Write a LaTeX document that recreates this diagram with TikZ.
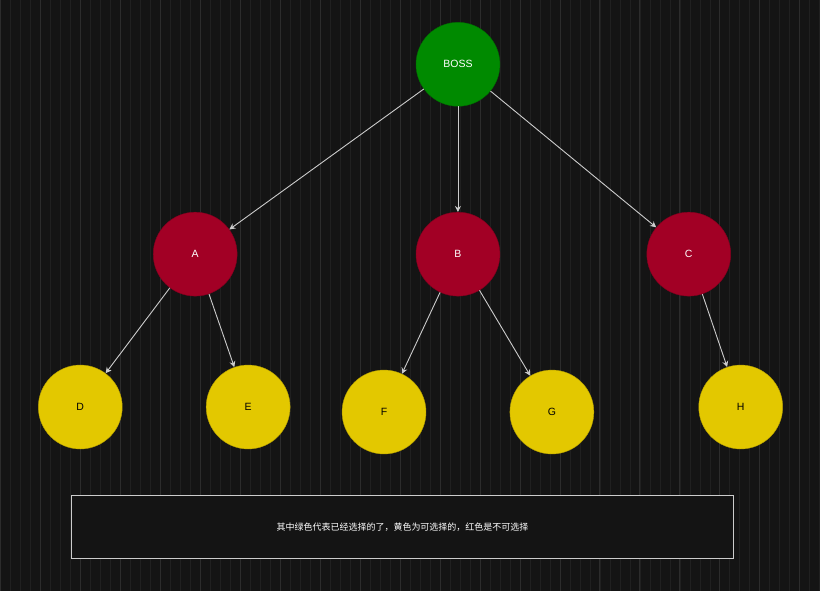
\documentclass[tikz,border=0pt]{standalone}
\usepackage{fontspec}
\setmainfont{Liberation Sans}
\newfontfamily\cjk{Noto Sans CJK SC}
\usetikzlibrary{arrows.meta}
\definecolor{bgdark}{HTML}{141414}
\definecolor{gridminor}{HTML}{202020}
\definecolor{gridmajor}{HTML}{2C2C2C}
\definecolor{bossgreen}{HTML}{008A00}
\definecolor{nored}{HTML}{A20025}
\definecolor{okyellow}{HTML}{E3C800}
\begin{document}
\begin{tikzpicture}[x=1pt,y=-1pt,
    person/.style={circle, draw=#1!80!black, fill=#1, minimum size=84pt, inner sep=0pt, font=\fontsize{10.5}{12}\selectfont},
    chosen/.style={person=bossgreen, text=white},
    blocked/.style={person=nored, text=white},
    free/.style={person=okyellow, text=black},
    edge/.style={-{Stealth[length=6pt,width=6pt]}, draw=white!80!black, line width=0.9pt}
]
% background and grid
\fill[bgdark] (0,0) rectangle (820,591);
\draw[gridminor, line width=0.5pt] (0,0) grid[step=10] (820,591);
\draw[gridmajor, line width=0.7pt] (0,0) grid[step=40] (820,591);
\useasboundingbox (0,0) rectangle (820,591);

% nodes
\node[chosen] (boss) at (458,64) {BOSS};
\node[blocked] (a) at (195,254) {A};
\node[blocked] (b) at (458,254) {B};
\node[blocked] (c) at (689,254) {C};
\node[free] (d) at (80,407) {D};
\node[free] (e) at (248,407) {E};
\node[free] (f) at (384,412) {F};
\node[free] (g) at (552,412) {G};
\node[free] (h) at (741,407) {H};

% connectors
\draw[edge] (boss) -- (a);
\draw[edge] (boss) -- (b);
\draw[edge] (boss) -- (c);
\draw[edge] (a) -- (d);
\draw[edge] (a) -- (e);
\draw[edge] (b) -- (f);
\draw[edge] (b) -- (g);
\draw[edge] (c) -- (h);

% caption
\node[draw=white!80!black, line width=0.9pt, fill=bgdark, minimum width=662pt, minimum height=63pt, text=white,
      font=\cjk\fontsize{9}{11}\selectfont] (note) at (402.5,527) {其中绿色代表已经选择的了，黄色为可选择的，红色是不可选择};
\end{tikzpicture}
\end{document}
